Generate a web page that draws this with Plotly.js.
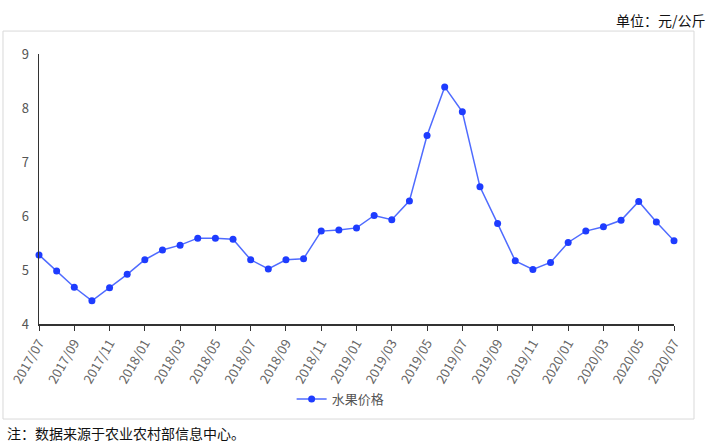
<!DOCTYPE html>
<html>
<head>
<meta charset="utf-8">
<script src="https://cdn.plot.ly/plotly-3.0.1.min.js"></script>
<style>
	html, body { margin: 0; padding: 0; background: #fff; }
	#fruit-graph { width: 717px; height: 446px; }
</style>
</head>
<body>
<div id="fruit-graph"></div>
<script>
'use strict';

// months on the x axis
var months = [
	'2017/07', '2017/08', '2017/09', '2017/10', '2017/11', '2017/12',
	'2018/01', '2018/02', '2018/03', '2018/04', '2018/05', '2018/06',
	'2018/07', '2018/08', '2018/09', '2018/10', '2018/11', '2018/12',
	'2019/01', '2019/02', '2019/03', '2019/04', '2019/05', '2019/06',
	'2019/07', '2019/08', '2019/09', '2019/10', '2019/11', '2019/12',
	'2020/01', '2020/02', '2020/03', '2020/04', '2020/05', '2020/06',
	'2020/07'
];

// 水果价格 (元/公斤)
var fruitPrice = [
	5.28, 4.98, 4.68, 4.43, 4.67, 4.92,
	5.19, 5.37, 5.46, 5.59, 5.59, 5.57,
	5.19, 5.02, 5.19, 5.21, 5.72, 5.74,
	5.78, 6.01, 5.93, 6.28, 7.49, 8.39,
	7.93, 6.54, 5.86, 5.17, 5.01, 5.14,
	5.51, 5.72, 5.80, 5.92, 6.27, 5.89,
	5.54
];

// only every second month gets a label
var tickMonths = months.filter(function (m, i) { return i % 2 === 0; });

var seriesName = '水果价格';
var unitText = '单位：元/公斤';
var noteText = '注：数据来源于农业农村部信息中心。';

var createFruitGraph = function () {
	var font = 'Noto Sans CJK SC, sans-serif';

	var traces = [
		{
			x: months,
			y: fruitPrice,
			name: seriesName,
			type: 'scatter',
			mode: 'lines+markers',
			line: { color: '#4f6bff', width: 1.5 },
			marker: { color: '#1e3cff', size: 7 },
			cliponaxis: false,
			hoverinfo: 'none',
		},
	];

	var layout = {
		width: 717,
		height: 446,
		margin: { l: 39, r: 43, t: 54, b: 122, pad: 0 },
		paper_bgcolor: '#fff',
		plot_bgcolor: '#fff',
		font: { family: font, color: '#555', size: 12 },
		showlegend: true,
		legend: {
			orientation: 'h',
			x: 0.475,
			xanchor: 'center',
			y: -0.278,
			yanchor: 'middle',
			font: { size: 13, color: '#555' },
			bgcolor: 'rgba(0,0,0,0)',
		},
		xaxis: {
			type: 'category',
			range: [0, months.length - 1],
			tickvals: tickMonths,
			ticktext: tickMonths,
			tickangle: -60,
			ticks: 'outside',
			ticklen: 5,
			tickcolor: '#333',
			showline: true,
			linecolor: '#333',
			linewidth: 1.5,
			showgrid: false,
			zeroline: false,
			tickfont: { size: 13, color: '#666' },
		},
		yaxis: {
			range: [4, 9],
			dtick: 1,
			ticks: '',
			showline: true,
			linecolor: '#333',
			linewidth: 1.5,
			showgrid: false,
			zeroline: false,
			ticklabelstandoff: 6,
			tickfont: { size: 13, color: '#555' },
		},
		// light grey frame round the chart
		shapes: [
			{
				type: 'rect',
				xref: 'paper',
				yref: 'paper',
				x0: -0.0567,
				x1: 1.0315,
				y0: -0.352,
				y1: 1.085,
				line: { color: '#d9d9d9', width: 1 },
				layer: 'below',
			},
		],
		annotations: [
			{
				text: unitText,
				xref: 'paper',
				yref: 'paper',
				x: 1.054,
				y: 1.126,
				xanchor: 'right',
				yanchor: 'middle',
				showarrow: false,
				font: { size: 14, color: '#111' },
			},
			{
				text: noteText,
				xref: 'paper',
				yref: 'paper',
				x: -0.054,
				y: -0.404,
				xanchor: 'left',
				yanchor: 'middle',
				showarrow: false,
				font: { size: 14, color: '#111' },
			},
		],
	};

	var config = { displayModeBar: false, staticPlot: true };
	Plotly.newPlot('fruit-graph', traces, layout, config);
};

document.addEventListener('DOMContentLoaded', createFruitGraph);
</script>
</body>
</html>
